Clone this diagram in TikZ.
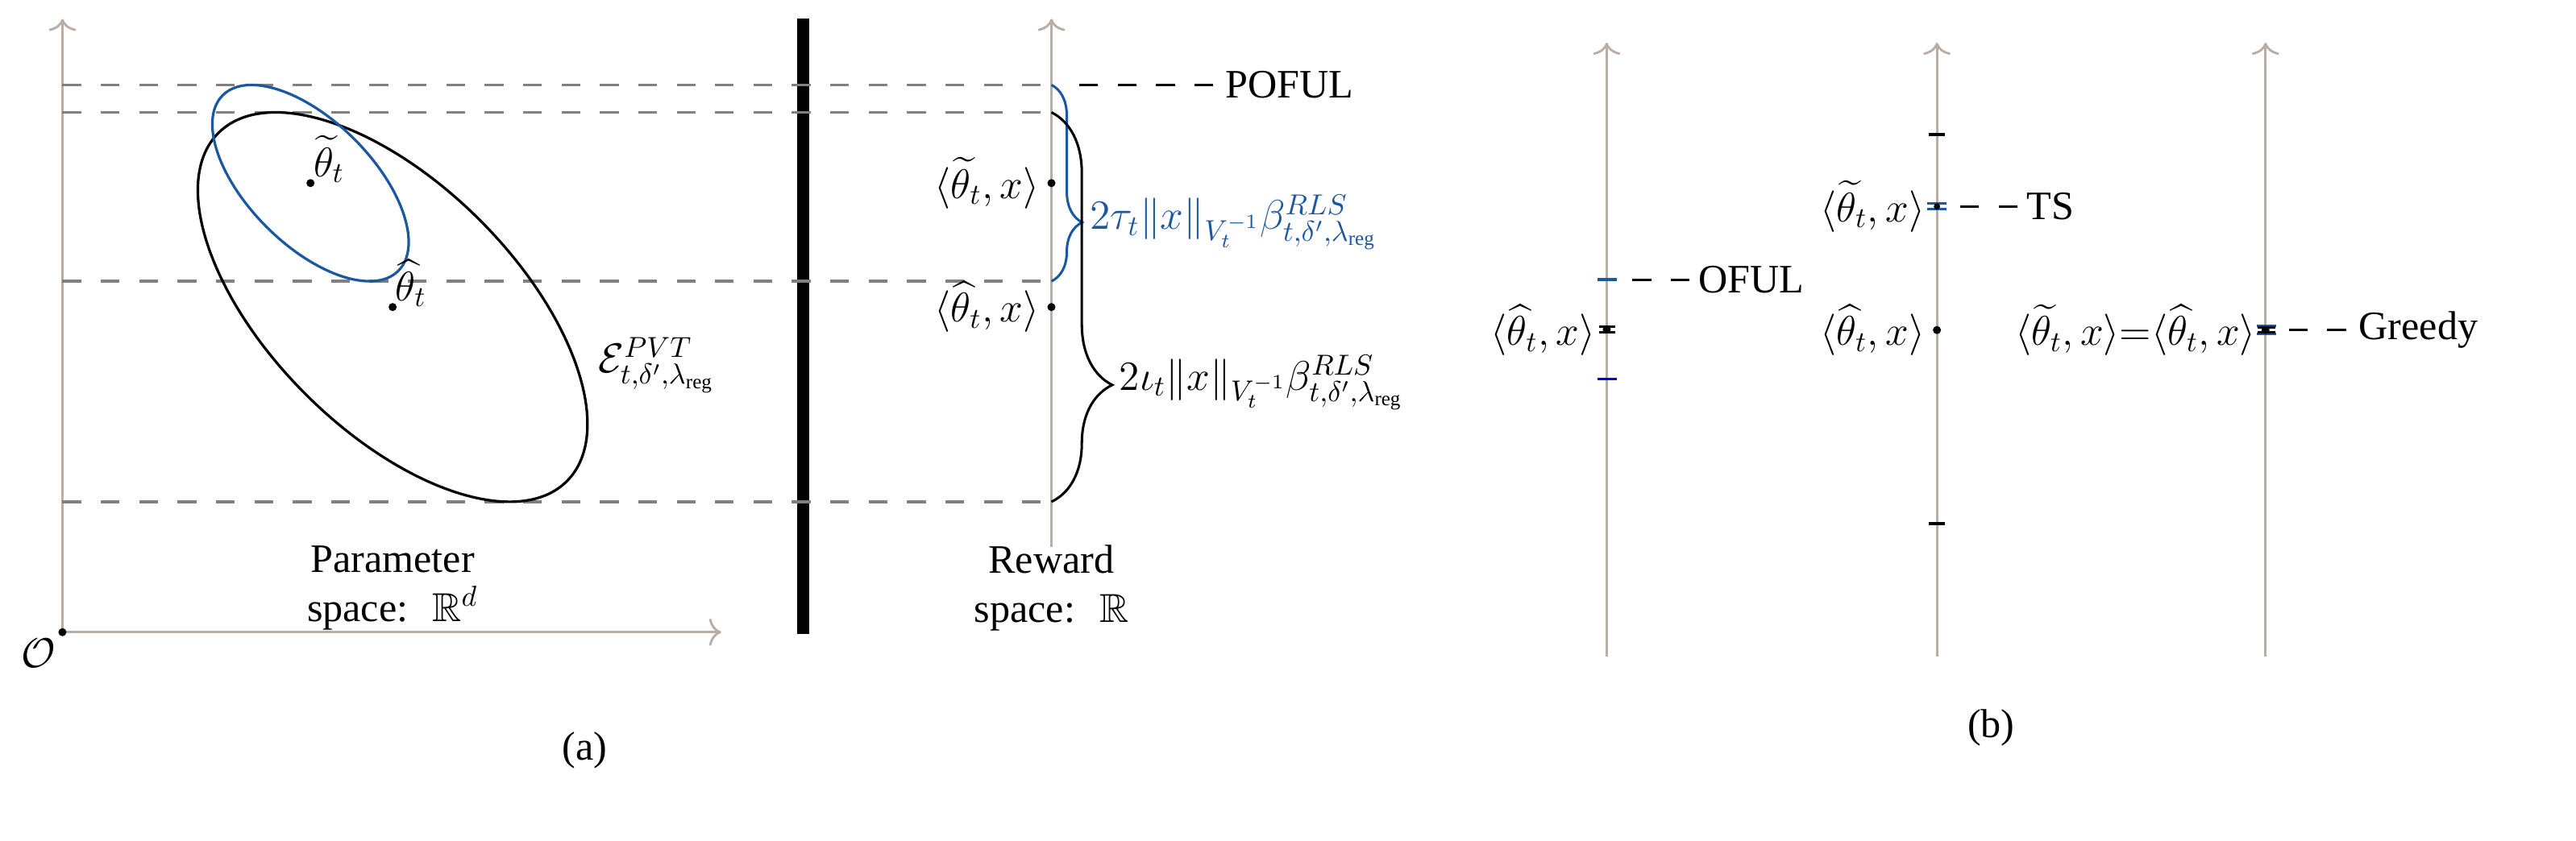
\documentclass[tikz,border=0pt]{standalone}
\usepackage{amsmath,amssymb}
\usepackage{fontspec}
\setmainfont{Liberation Serif}
\usetikzlibrary{arrows.meta,decorations.pathreplacing}
\definecolor{axisc}{RGB}{184,174,164}
\definecolor{dgray}{RGB}{128,128,128}
\definecolor{bblue}{RGB}{28,88,160}
\definecolor{pblue}{RGB}{0,0,225}
\tikzset{
  axisline/.style={draw=axisc, line width=0.8pt, -{Computer Modern Rightarrow[width=9.5pt,length=4.2pt]}},
  gdash/.style={draw=dgray, line width=0.95pt, dash pattern=on 6.5pt off 6.8pt},
  bdash/.style={draw=black, line width=0.8pt, dash pattern=on 6.5pt off 6.8pt},
  dotn/.style={circle, fill=black, inner sep=0pt, minimum size=2.8pt},
  lbl/.style={inner sep=0pt},
  tickb/.style={line width=1pt},
  bracedraw/.style={line width=0.85pt, decorate},
  ell/.style={line width=0.9pt},
}
\begin{document}
\begin{tikzpicture}[x=0.02cm, y=-0.02cm, font=\fontsize{14}{17}\selectfont]
\useasboundingbox (0,0) rectangle (1568,512);

% ---------------- Panel (a) ----------------
\coordinate (O) at (38,385);
\coordinate (Ytip) at (38,11.5);
\coordinate (Xtip) at (439,385);
\draw[axisline] (O) -- (Ytip);
\draw[axisline] (O) -- (Xtip);
\node[dotn] (o) at (O) {};
\node[lbl, anchor=north east] (olbl) at (34,389) {$\mathcal{O}$};

% thick separator
\coordinate (bartop) at (489,11.5);
\coordinate (barbot) at (489,386);
\draw[line width=4.2pt] (bartop) -- (barbot);

% reward axis
\coordinate (R0) at (640,333);
\coordinate (Rtip) at (640,11.5);
\draw[axisline] (R0) -- (Rtip);

% dashed gray levels
\foreach \n/\yy in {1/51.7, 2/68.4, 3/171.3, 4/305.6}{
  \coordinate (L\n) at (38,\yy);
  \coordinate (R\n) at (640,\yy);
  \draw[gdash] (L\n) -- (R\n);
}

% ellipses
\draw[ell, shift={(239,187)}, rotate=-45] (0,0) ellipse [x radius=3cm, y radius=1.5cm];
\draw[ell, bblue, shift={(189,111.5)}, rotate=-45] (0,0) ellipse [x radius=1.512cm, y radius=0.756cm];

% centre points
\node[dotn] (tt) at (189,111.5) {};
\node[dotn] (th) at (239,187) {};
\node[lbl, anchor=base west] (ttl) at (190.5,107.5) {$\widetilde{\theta}_t$};
\node[lbl, anchor=base west] (thl) at (240.5,183) {$\widehat{\theta}_t$};
\node[lbl, anchor=base west] (elbl) at (364,227) {$\mathcal{E}^{PVT}_{t,\delta',\lambda_{\text{reg}}}$};

\node[lbl, align=center] (param) at (239,358) {Parameter\\space:\hspace{0.6em}$\mathbb{R}^d$};

% reward space points
\node[dotn] (rt) at (640,111.5) {};
\node[dotn] (rh) at (640,187) {};
\node[lbl, anchor=east] (rtl) at (633,111.5) {$\langle\widetilde{\theta}_t, x\rangle$};
\node[lbl, anchor=east] (rhl) at (633,187) {$\langle\widehat{\theta}_t, x\rangle$};

% braces
\draw[bracedraw, bblue, decoration={brace, amplitude=0.374cm, aspect=0.7}] (R1) -- (R3);
\draw[bracedraw, decoration={brace, amplitude=0.74cm, aspect=0.7}] (R2) -- (R4);
\node[lbl, anchor=west, text=bblue] (taul) at (663,135.3) {$2\tau_t\|x\|_{V_t^{-1}}\beta^{RLS}_{t,\delta',\lambda_{\text{reg}}}$};
\node[lbl, anchor=west] (iotal) at (681,233) {$2\iota_t\|x\|_{V_t^{-1}}\beta^{RLS}_{t,\delta',\lambda_{\text{reg}}}$};

% POFUL
\node[lbl, anchor=west] (poful) at (745.5,51.7) {POFUL};
\draw[bdash] ([xshift=-0.14cm]poful.west) -- (646,51.7);

\node[lbl, align=center] (reward) at (640,358) {Reward\\space:\hspace{0.6em}$\mathbb{R}$};
\node (la) at (356,457) {(a)};

% ---------------- Panel (b) ----------------
\foreach \n/\xx in {1/978, 2/1179, 3/1379}{
  \coordinate (B\n) at (\xx,400);
  \coordinate (T\n) at (\xx,26);
  \draw[axisline] (B\n) -- (T\n);
}

% OFUL axis
\draw[tickb, bblue] (972.5,170.3) -- (984,170.3);
\draw[tickb, pblue] (972.5,230.8) -- (984,230.8);
\draw[line width=0.8pt] (973.5,198.8) -- (983,198.8) (973.5,202.3) -- (983,202.3);
\node[dotn] (o1) at (978,200.6) {};
\node[lbl, anchor=east] (o1l) at (971.5,201) {$\langle\widehat{\theta}_t, x\rangle$};
\node[lbl, anchor=west] (oful) at (1033.5,170.3) {OFUL};
\draw[bdash] ([xshift=-0.1cm]oful.west) -- (984,170.3);

% TS axis
\draw[tickb] (1174,81.8) -- (1184,81.8);
\draw[tickb] (1174,319) -- (1184,319);
\draw[line width=0.8pt, bblue] (1173,124) -- (1185,124) (1173,127.4) -- (1185,127.4);
\node[dotn, minimum size=2.2pt] (t1) at (1179,125.7) {};
\node[dotn] (t2) at (1179,201) {};
\node[lbl, anchor=east] (t1l) at (1172,125.7) {$\langle\widetilde{\theta}_t, x\rangle$};
\node[lbl, anchor=east] (t2l) at (1172,201) {$\langle\widehat{\theta}_t, x\rangle$};
\node[lbl, anchor=west] (ts) at (1233.5,125.7) {TS};
\draw[bdash] ([xshift=-0.11cm]ts.west) -- (1185,125.7);

% Greedy axis
\draw[line width=0.9pt, bblue] (1373.5,198.6) -- (1385.5,198.6) (1373.5,203.4) -- (1385.5,203.4);
\draw[line width=0.8pt] (1374,199.6) -- (1385,199.6) (1374,202.4) -- (1385,202.4);
\node[dotn] (g1) at (1379,201) {};
\node[lbl, anchor=east] (g1l) at (1373.5,201) {$\langle\widetilde{\theta}_t, x\rangle{=}\langle\widehat{\theta}_t, x\rangle$};
\node[lbl, anchor=west] (greedy) at (1435.5,201) {Greedy};
\draw[bdash] ([xshift=-0.15cm]greedy.west) -- (1386,201);

\node (lb) at (1212,443) {(b)};
\end{tikzpicture}
\end{document}
